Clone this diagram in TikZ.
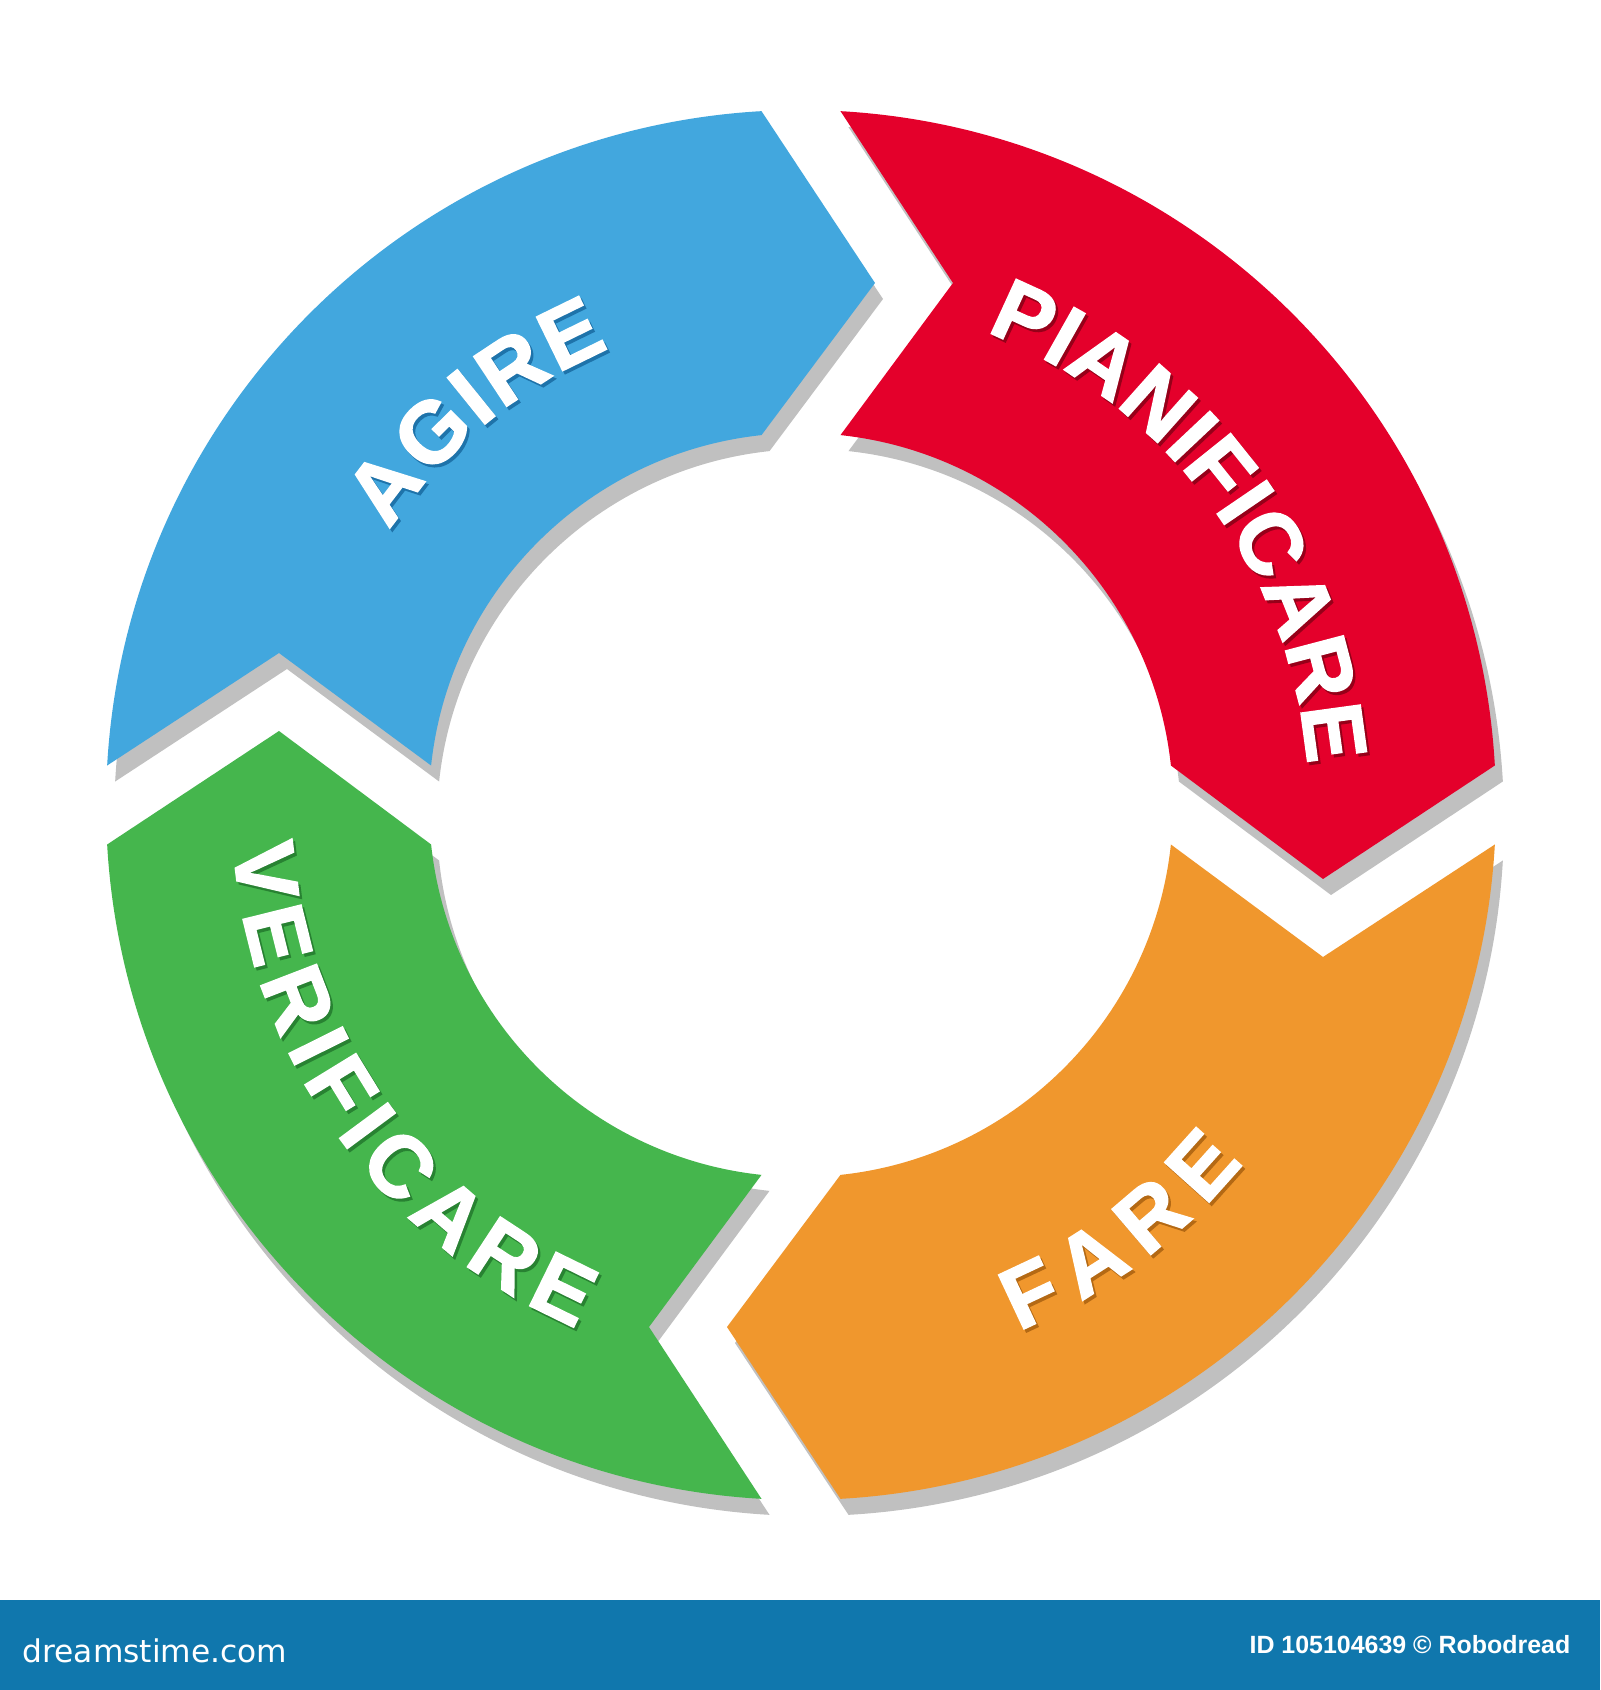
\documentclass[tikz,border=0pt]{standalone}
\usepackage{fontspec}
\usetikzlibrary{calc}
\newfontfamily\lblfont[FakeBold=2]{Liberation Sans Bold}
\newfontfamily\idfont{Liberation Sans}
\newfontfamily\bandfont{DejaVu Sans}
\newcommand\lblfnt{\lblfont\fontsize{24.6}{28}\selectfont}
\definecolor{cblue}{RGB}{66,167,222}
\definecolor{cred}{RGB}{228,0,43}
\definecolor{corange}{RGB}{240,151,45}
\definecolor{cgreen}{RGB}{69,182,77}
\definecolor{dblue}{RGB}{30,115,170}
\definecolor{dred}{RGB}{150,0,25}
\definecolor{dorange}{RGB}{180,105,20}
\definecolor{dgreen}{RGB}{40,130,50}
\definecolor{cshadow}{RGB}{192,192,192}
\definecolor{cband}{RGB}{16,119,173}
\tikzset{
  lbl/.style={font=\lblfnt, text=white, anchor=base, inner sep=0pt},
  lblshadow/.style={lbl},
  bandtxt/.style={text=white, inner sep=0pt}
}
% one ring arrow (tail at the left, head at the top), centre at origin
\newcommand\arrowshape{(176.742:695) arc[start angle=176.742, end angle=93.258, radius=695] -- (74,522) -- (96.095:372) arc[start angle=96.095, end angle=173.905, radius=372] -- (-522,152) -- cycle}
\newcommand\emu{86.46}% one em of the label font in picture units
% #1 name, #2 centre angle, #3 baseline radius, #4 dir (+1 ccw, -1 cw), #5 tracking, #6 letter/width list, #7 shadow colour
\newcommand\ringtext[7]{%
  \gdef\rtlen{0}%
  \foreach \ch/\cw in {#6}{%
    \pgfmathsetmacro\rttmp{\rtlen + \cw*\emu + #5}%
    \xdef\rtlen{\rttmp}}%
  \pgfmathsetmacro\rtstart{#2 - (#4)*0.5*(\rtlen - #5)/#3*57.29578}%
  \xdef\rtst{\rtstart}%
  \gdef\rtacc{0}%
  \foreach \ch/\cw [count=\k] in {#6}{%
    \pgfmathsetmacro\rtlw{\cw*\emu}%
    \pgfmathsetmacro\rtang{\rtst + (#4)*(\rtacc + 0.5*\rtlw)/#3*57.29578}%
    \pgfmathsetmacro\rtrot{\rtang + (#4)*90}%
    \node[lblshadow, text=#7, rotate=\rtrot] (#1s\k) at ($(\rtang:#3)+(2.5,-3)$) {\ch};
    \node[lbl, rotate=\rtrot] (#1\k) at (\rtang:#3) {\ch};
    \pgfmathsetmacro\rttmp{\rtacc + \rtlw + #5}%
    \xdef\rtacc{\rttmp}}%
}
\begin{document}
\begin{tikzpicture}[x=0.1mm, y=0.1mm]
\useasboundingbox (-801,-885) rectangle (799,805);
\fill[white] (-801,-885) rectangle (799,805);
% shadows
\foreach \r in {0,-90,-180,-270}{
  \fill[cshadow, shift={(8,-16)}, rotate=\r] \arrowshape;
}
% arrows
\foreach \r/\c in {0/cblue,-90/cred,-180/corange,-270/cgreen}{
  \fill[\c, rotate=\r] \arrowshape;
}
% labels
\ringtext{ag}{129.5}{495}{-1}{4}{A/.722,G/.778,I/.278,R/.722,E/.667}{dblue}
\ringtext{pi}{36.6}{508}{-1}{1.6}{P/.667,I/.278,A/.722,N/.722,I/.278,F/.611,I/.278,C/.722,A/.722,R/.722,E/.667}{dred}
\ringtext{fa}{-53.25}{569}{1}{16}{F/.611,A/.722,R/.722,E/.667}{dorange}
\ringtext{ve}{215.45}{569}{1}{11}{V/.667,E/.667,R/.722,I/.278,F/.611,I/.278,C/.722,A/.722,R/.722,E/.667}{dgreen}
% bottom band
\fill[cband] (-801,-795) rectangle (799,-885);
\node[bandtxt, anchor=base west, font=\bandfont\fontsize{8.9}{10}\selectfont] (brand) at (-779,-857) {dreamstime.com};
\node[bandtxt, anchor=base east, font=\idfont\bfseries\fontsize{7.1}{8}\selectfont] (imgid) at (770,-848) {ID 105104639 © Robodread};
\end{tikzpicture}
\end{document}
